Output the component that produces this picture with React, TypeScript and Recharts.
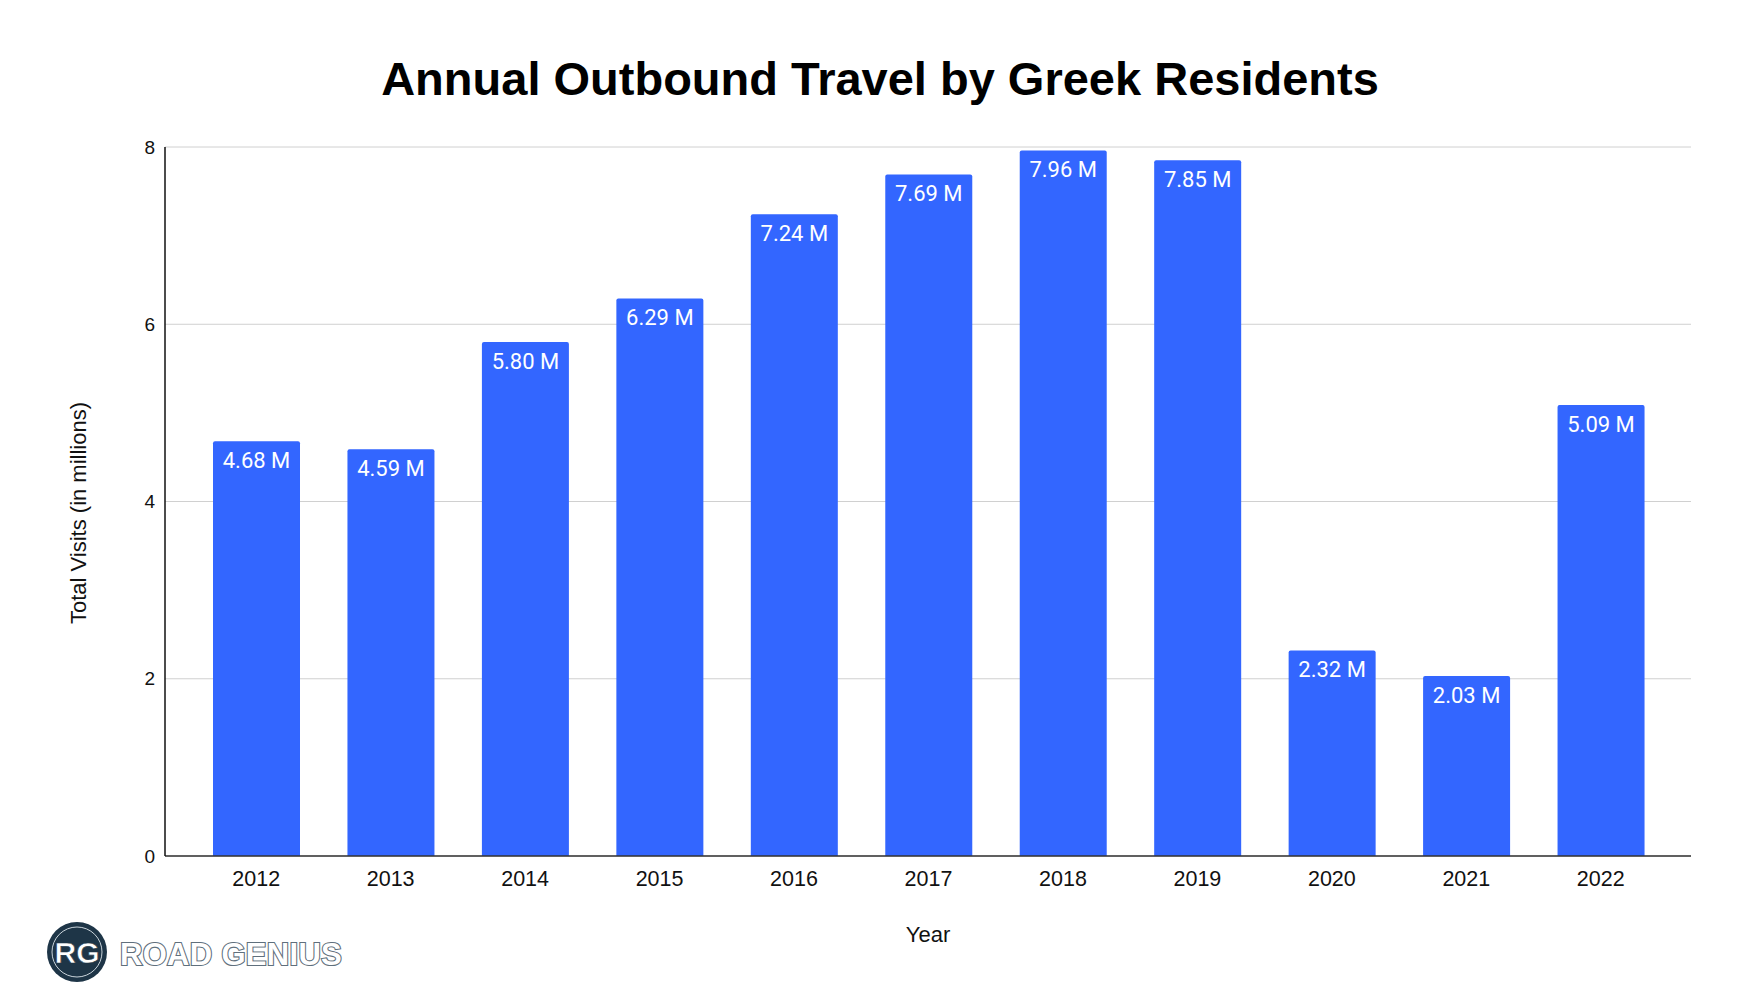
import React from 'react'
import { BarChart, Bar, XAxis, YAxis, CartesianGrid, LabelList, Label } from 'recharts'

const years = ['2012', '2013', '2014', '2015', '2016', '2017', '2018', '2019', '2020', '2021', '2022']
const visits = [4.68, 4.59, 5.8, 6.29, 7.24, 7.69, 7.96, 7.85, 2.32, 2.03, 5.09]
const yTicks = [0, 2, 4, 6, 8]

const data = years.map((year, i) => ({ year, visits: visits[i] }))

const BLUE = '#3366ff'
const SANS = '"Liberation Sans", Arial, sans-serif'

function Logo() {
  return (
    <svg width={360} height={80} style={{ position: 'absolute', left: 0, top: 912 }}>
      <circle cx={77} cy={40} r={30} fill="#1e3547" />
      <circle cx={77} cy={40} r={25} fill="none" stroke="#c9d3da" strokeWidth={1} />
      <text
        x={77}
        y={51}
        textAnchor="middle"
        fontFamily={SANS}
        fontWeight={700}
        fontSize={30}
        fill="#ffffff"
        stroke="#1e3547"
        strokeWidth={0.6}
      >
        RG
      </text>
      <text
        x={120}
        y={53}
        fontFamily={SANS}
        fontWeight={700}
        fontSize={31}
        letterSpacing={0.3}
        fill="#ffffff"
        stroke="#5f6f7c"
        strokeWidth={2.2}
        paintOrder="stroke"
      >
        ROAD GENIUS
      </text>
    </svg>
  )
}

export default function App() {
  return (
    <div style={{ position: 'absolute', left: 0, top: 0, width: 1760, height: 1000, background: '#fff' }}>
      <div
        style={{
          position: 'absolute',
          left: 0,
          top: 52,
          width: 1760,
          textAlign: 'center',
          fontFamily: SANS,
          fontWeight: 700,
          fontSize: 47,
          lineHeight: '54px',
          color: '#000',
        }}
      >
        Annual Outbound Travel by Greek Residents
      </div>
      <BarChart
        width={1760}
        height={1000}
        data={data}
        margin={{ top: 147, right: 69, left: 105, bottom: 94 }}
        barSize={87}
      >
        <CartesianGrid vertical={false} stroke="#d0d0d0" />
        <XAxis
          dataKey="year"
          height={50}
          padding={{ left: 24, right: 23 }}
          tickLine={false}
          axisLine={{ stroke: '#333', strokeWidth: 1.5 }}
          tickMargin={9}
          tick={{ fill: '#111', fontSize: 21.5, fontFamily: SANS }}
        >
          <Label
            content={() => (
              <text x={928} y={942} textAnchor="middle" fontFamily={SANS} fontSize={22} fill="#111">
                Year
              </text>
            )}
          />
        </XAxis>
        <YAxis
          width={60}
          domain={[0, 8]}
          ticks={yTicks}
          tickLine={false}
          axisLine={{ stroke: '#111', strokeWidth: 1.5 }}
          tickMargin={4}
          tick={{ fill: '#111', fontSize: 19, fontFamily: SANS }}
        >
          <Label
            content={() => (
              <text
                x={86}
                y={513}
                textAnchor="middle"
                transform="rotate(-90, 86, 513)"
                fontFamily={SANS}
                fontSize={22}
                fill="#111"
              >
                Total Visits (in millions)
              </text>
            )}
          />
        </YAxis>
        <Bar dataKey="visits" fill={BLUE} radius={[2, 2, 0, 0]} isAnimationActive={false}>
          <LabelList
            dataKey="visits"
            position="insideTop"
            offset={11}
            formatter={(v: number) => `${v.toFixed(2)} M`}
            style={{ fill: '#ffffff', fontSize: 22, fontFamily: 'Roboto, sans-serif' }}
          />
        </Bar>
      </BarChart>
      <Logo />
    </div>
  )
}
